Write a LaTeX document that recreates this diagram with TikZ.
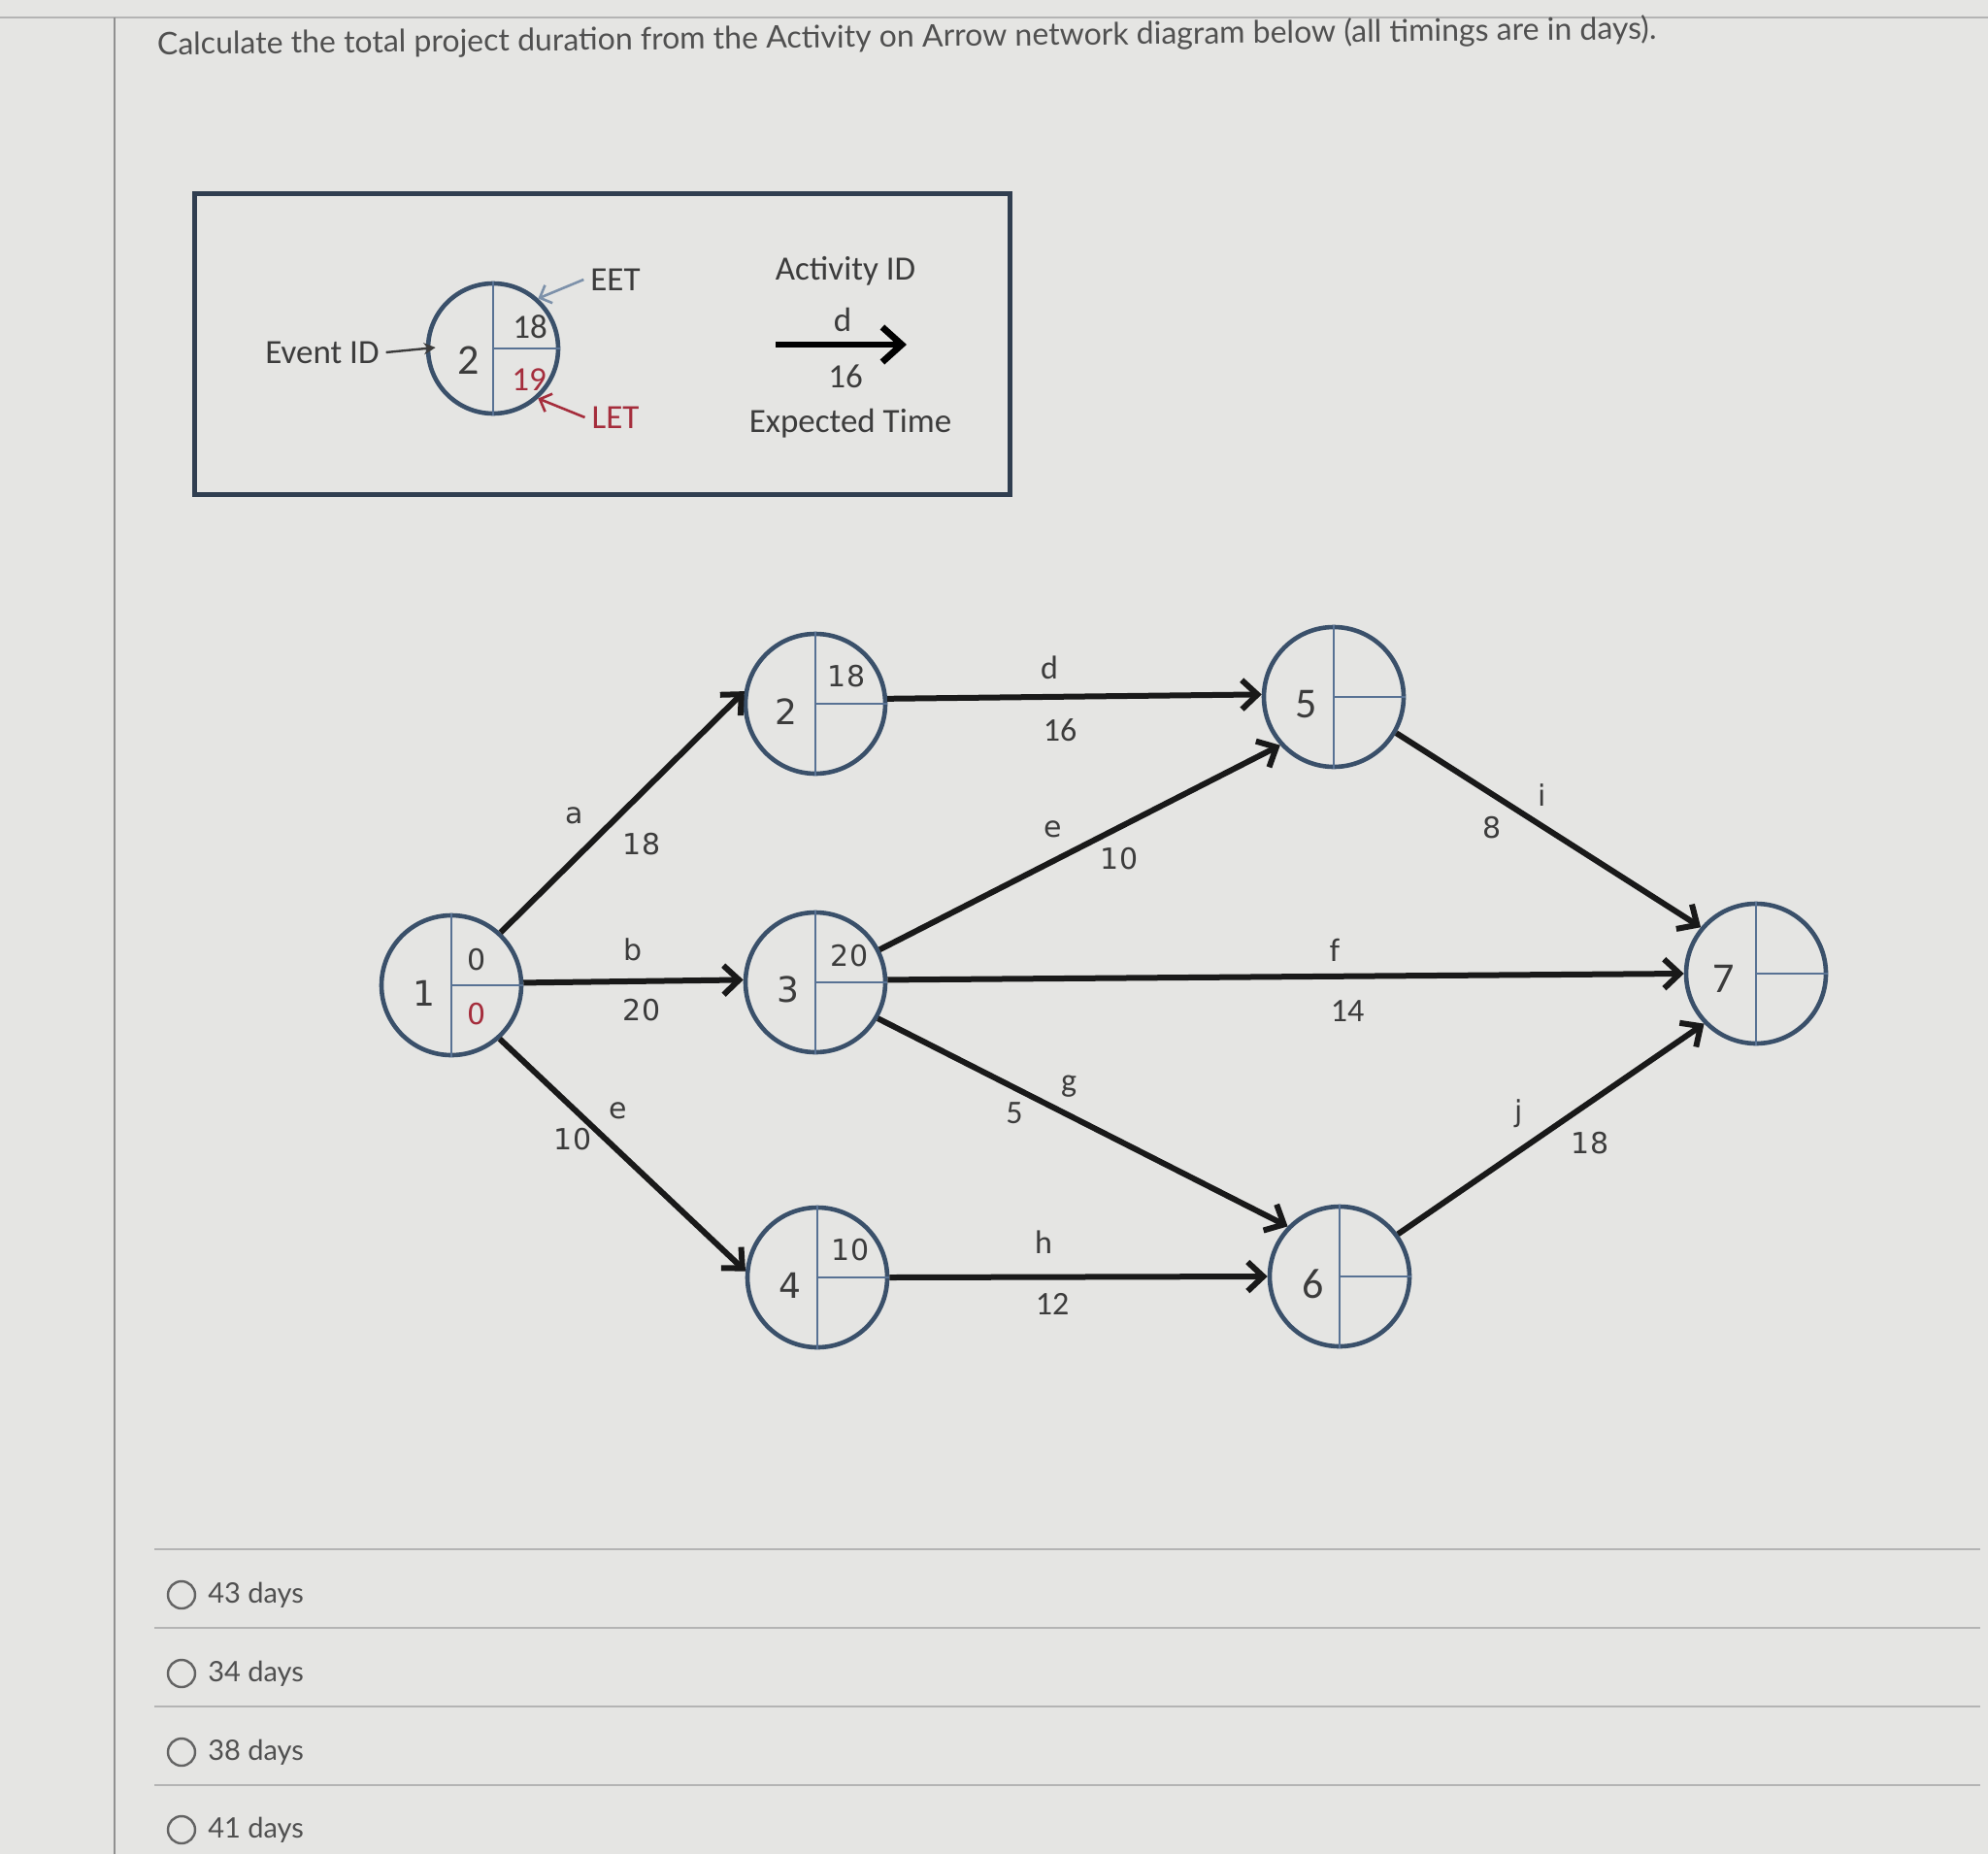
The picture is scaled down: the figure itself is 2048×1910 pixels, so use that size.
\documentclass[tikz,border=0pt]{standalone}
\usepackage{fontspec}
\setmainfont{Lato}
\newfontfamily\calfont{Carlito}
\newfontfamily\dvfont{DejaVu Sans}
\usetikzlibrary{arrows.meta,positioning}

\definecolor{paper}{RGB}{229,229,227}
\definecolor{slate}{RGB}{48,62,80}
\definecolor{nodeblue}{RGB}{58,80,106}
\definecolor{lineblue}{RGB}{88,114,148}
\definecolor{ink}{RGB}{60,60,60}
\definecolor{letred}{RGB}{165,45,60}
\definecolor{eetblue}{RGB}{125,145,170}
\definecolor{rulegray}{RGB}{180,180,180}

\tikzset{
	event/.style={circle,draw=nodeblue,line width=2.3pt,minimum size=72pt,inner sep=0pt},
	divider/.style={lineblue,line width=1.1pt},
	act/.style={-{Straight Barb[length=8pt,width=15pt]},line width=3pt,black!90},
	dvlbl/.style={font=\dvfont\fontsize{15}{18}\selectfont,text=ink},
	callbl/.style={font=\calfont\fontsize{17}{20}\selectfont,text=ink},
	evnum/.style={font=\calfont\fontsize{22}{26}\selectfont,text=ink},
	keytxt/.style={font=\calfont\fontsize{17.5}{21}\selectfont,text=ink},
	radio/.style={circle,draw=ink!80,line width=1.2pt,minimum size=14pt,inner sep=0pt},
	opttxt/.style={font=\fontsize{14.5}{17}\selectfont,text=ink!90}
}

\begin{document}
\begin{tikzpicture}[x=0.5pt,y=-0.5pt]
	% draw page
	\fill[paper] (0,0) rectangle (2048,1910);
	\useasboundingbox (0,0) rectangle (2048,1910);
	\draw[rulegray,line width=0.8pt] (0,18) -- (2048,18);
	\draw[rulegray!80!black,line width=0.8pt] (118,18) -- (118,1910);
	
	% draw title
	\node[anchor=west,rotate=0.6,font=\fontsize{16}{19}\selectfont,text=ink!90] (title) at (155,47) {Calculate the total project duration from the Activity on Arrow network diagram below (all timings are in days).};
	
	% draw key
	\draw[slate,line width=2.5pt] (200,200) rectangle (1040,509);
	\node[event,minimum size=67pt] (key) at (508,359) {};
	\draw[divider] (key.north) -- (key.south);
	\draw[divider] (key.center) -- (key.east);
	\node[keytxt] (keyevent) at (332,363) {Event ID};
	\node[evnum] (keyid) at (483,371) {2};
	\node[keytxt] (keyeet) at (546,337) {18};
	\node[keytxt,text=letred] (keylet) at (545,391) {19};
	\node[keytxt] (eet) at (634,288) {EET};
	\node[keytxt,text=letred] (let) at (634,430) {LET};
	\draw[-{Stealth[length=6pt,width=6pt]},ink,line width=1.2pt,shorten >=-5pt] (keyevent.east) -- (key.west);
	\draw[-{Straight Barb[length=5pt,width=10pt]},eetblue,line width=1.3pt] (eet.west) -- (key.48);
	\draw[-{Straight Barb[length=5pt,width=10pt]},letred,line width=1.3pt] (let.west) -- (key.-48);
	
	\node[keytxt] (keyact) at (871,279) {Activity ID};
	\node[keytxt] (keyd) at (868,329) {d};
	\node[keytxt] (keytime) at (871,388) {16};
	\node[keytxt] (keyexp) at (876,436) {Expected Time};
	\coordinate (keyfrom) at (799,355);
	\coordinate (keyto) at (934,355);
	\draw[-{Straight Barb[length=10pt,width=18pt]},line width=3.4pt] (keyfrom) -- (keyto);
	
	% draw events
	\node[event] (n1) at (465,1015) {};
	\node[event] (n2) at (840,725) {};
	\node[event] (n3) at (840,1012) {};
	\node[event] (n4) at (842,1316) {};
	\node[event] (n5) at (1374,718) {};
	\node[event] (n6) at (1380,1315) {};
	\node[event] (n7) at (1809,1003) {};
	\foreach \n in {n1,n2,n3,n4,n5,n6,n7}{
		\draw[divider] (\n.north) -- (\n.south);
		\draw[divider] (\n.center) -- (\n.east);
	}
	
	% event ids and times
	\node[dvlbl,font=\dvfont\fontsize{18}{22}\selectfont] (id1) at (437,1023) {1};
	\node[dvlbl,font=\dvfont\fontsize{18}{22}\selectfont] (id2) at (810,733) {2};
	\node[dvlbl,font=\dvfont\fontsize{18}{22}\selectfont] (id3) at (812,1019) {3};
	\node[dvlbl,font=\dvfont\fontsize{18}{22}\selectfont] (id4) at (814,1324) {4};
	\node[evnum] (id5) at (1346,726) {5};
	\node[evnum] (id6) at (1353,1323) {6};
	\node[evnum] (id7) at (1776,1008) {7};
	\node[dvlbl] (eet1) at (491,989) {0};
	\node[dvlbl,text=letred] (let1) at (491,1045) {0};
	\node[dvlbl] (eet2) at (872,697) {18};
	\node[dvlbl] (eet3) at (875,985) {20};
	\node[dvlbl] (eet4) at (876,1288) {10};
	
	% draw activities
	\draw[act] (n1.47) -- (n2.170);
	\draw[act] (n1.2) -- (n3.178);
	\draw[act] (n1.-48) -- (n4.175);
	\draw[act] (n2.4) -- (n5.178);
	\draw[act] (n3.27) -- (n5.222);
	\draw[act] (n3.2) -- (n7.180);
	\draw[act] (n3.-30) -- (n6.136);
	\draw[act] (n4.0) -- (n6.180);
	\draw[act] (n5.-30) -- (n7.140);
	\draw[act] (n6.36) -- (n7.224);
	
	% activity labels
	\node[dvlbl] (la) at (592,840) {a};
	\node[dvlbl] (ta) at (661,870) {18};
	\node[dvlbl] (lb) at (652,978) {b};
	\node[dvlbl] (tb) at (661,1041) {20};
	\node[dvlbl] (lc) at (637,1144) {e};
	\node[dvlbl] (tc) at (590,1174) {10};
	\node[callbl] (ld) at (1081,688) {d};
	\node[callbl] (td) at (1092,752) {16};
	\node[dvlbl] (le) at (1085,854) {e};
	\node[dvlbl] (te) at (1153,885) {10};
	\node[callbl] (lf) at (1375,979) {f};
	\node[callbl] (tf) at (1388,1042) {14};
	\node[callbl] (lg) at (1101,1119) {g};
	\node[callbl] (tg) at (1045,1147) {5};
	\node[callbl] (lh) at (1075,1280) {h};
	\node[callbl] (th) at (1084,1343) {12};
	\node[dvlbl] (li) at (1589,819) {i};
	\node[dvlbl] (ti) at (1537,853) {8};
	\node[dvlbl] (lj) at (1565,1147) {j};
	\node[dvlbl] (tj) at (1638,1178) {18};
	
	% draw answers
	\draw[rulegray,line width=1.2pt] (159,1596) -- (2040,1596);
	\draw[rulegray,line width=1.2pt] (159,1677) -- (2040,1677);
	\draw[rulegray,line width=1.2pt] (159,1758) -- (2040,1758);
	\draw[rulegray,line width=1.2pt] (159,1839) -- (2040,1839);
	\node[radio] (opt1) at (187,1643) {};
	\node[radio] (opt2) at (187,1724) {};
	\node[radio] (opt3) at (187,1805) {};
	\node[radio] (opt4) at (187,1885) {};
	\node[opttxt,right=2.5pt of opt1] (ans1) {43 days};
	\node[opttxt,right=2.5pt of opt2] (ans2) {34 days};
	\node[opttxt,right=2.5pt of opt3] (ans3) {38 days};
	\node[opttxt,right=2.5pt of opt4] (ans4) {41 days};
\end{tikzpicture}
\end{document}
